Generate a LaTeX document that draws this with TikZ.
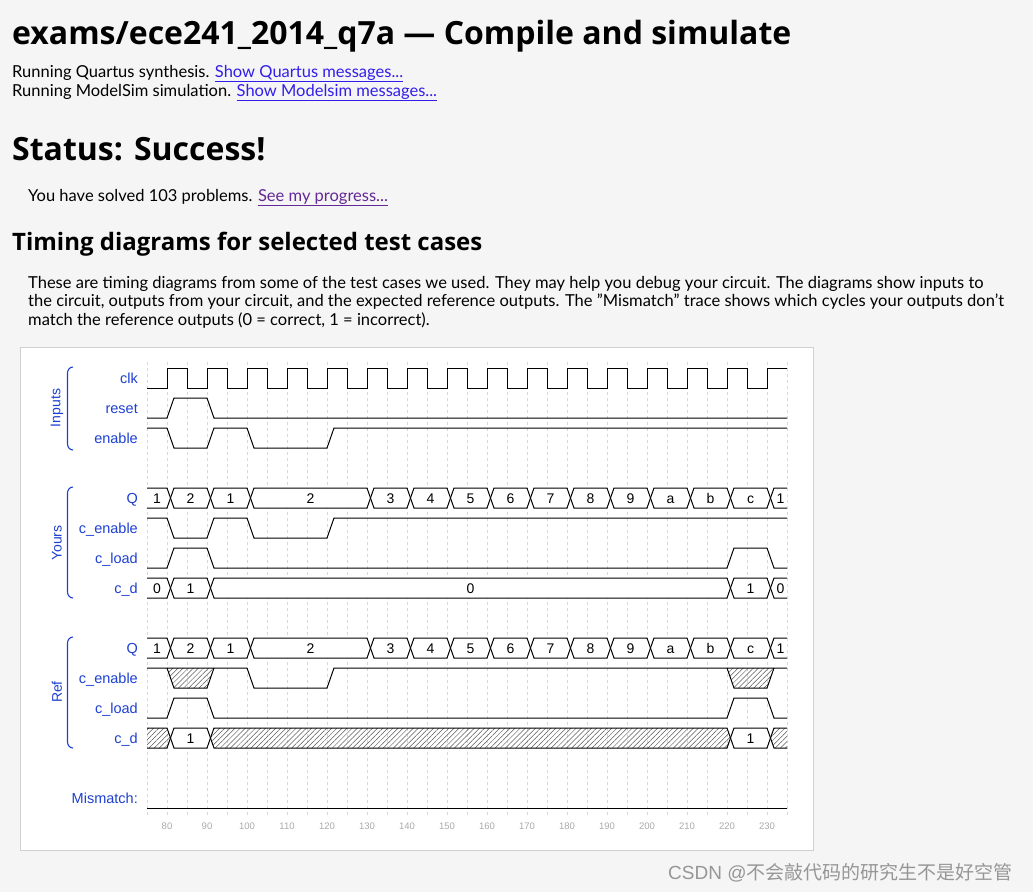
\documentclass[tikz,border=0pt]{standalone}
\usepackage{fontspec}
\setmainfont{Lato}
\newfontfamily\osans{Open Sans}
\newfontfamily\arial{Liberation Sans}
\newfontfamily\cjk{Noto Sans CJK SC}
\usetikzlibrary{patterns.meta}
\definecolor{pagebg}{RGB}{245,245,245}
\definecolor{panelborder}{RGB}{208,208,208}
\definecolor{lblblue}{RGB}{30,64,210}
\definecolor{linkblue}{RGB}{50,30,235}
\definecolor{linkpurple}{RGB}{100,40,150}
\definecolor{gridgray}{RGB}{215,215,215}
\definecolor{axisgray}{RGB}{170,170,170}
\definecolor{wmgray}{RGB}{150,150,150}
\tikzset{
  wv/.style={line width=1pt, black, line join=miter},
  hatch/.style={pattern={Lines[angle=45,distance=3.6pt,line width=0.5pt]}, pattern color=black!65},
  plain/.style={fill=white},
  val/.style={font=\arial\fontsize{14}{14}\selectfont, inner sep=0pt, text height=10pt, text depth=0pt, anchor=center},
  sig/.style={font=\arial\fontsize{14.5}{14.5}\selectfont, text=lblblue, inner sep=0pt, anchor=base east},
  grp/.style={font=\arial\fontsize{14}{14}\selectfont, text=lblblue, inner sep=0pt, rotate=90, anchor=center},
  brace/.style={lblblue, line width=1.1pt},
  gridln/.style={gridgray, line width=0.8pt, dash pattern=on 3pt off 3pt},
  axislbl/.style={font=\arial\fontsize{9.5}{9.5}\selectfont, text=axisgray, inner sep=0pt, anchor=center},
  body/.style={font=\fontsize{16.5}{19}\selectfont, inner sep=0pt, anchor=base west},
  hone/.style={font=\osans\bfseries\fontsize{32}{38}\selectfont, inner sep=0pt, anchor=base west},
  htwo/.style={font=\osans\bfseries\fontsize{24}{28}\selectfont, inner sep=0pt, anchor=base west},
}
\newcommand\lnk[1]{\textcolor{linkblue}{\underline{#1}}}
\newcommand\vlnk[1]{\textcolor{linkpurple}{\underline{#1}}}
% hexagon value between transitions a and b
\newcommand\hexv[5]{%
  \filldraw[wv,#5] ({#1+3.5},#3) -- ({#1+7},{#3-10}) -- (#2,{#3-10}) -- ({#2+3.5},#3) -- (#2,{#3+10}) -- ({#1+7},{#3+10}) -- cycle;
  \node[val] (v#1-#3) at ({(#1+7+#2)/2},#3) {#4};}
% first value, open at left
\newcommand\hexf[4]{%
  \filldraw[wv,#4] (147,{#2-10}) -- (#1,{#2-10}) -- ({#1+3.5},#2) -- (#1,{#2+10}) -- (147,{#2+10});
  \node[val] (vf-#2) at ({(147+#1)/2},#2) {#3};}
% last value, open at right
\newcommand\hexl[4]{%
  \filldraw[wv,#4] (787,{#2-10}) -- ({#1+7},{#2-10}) -- ({#1+3.5},#2) -- ({#1+7},{#2+10}) -- (787,{#2+10});
  \node[val] (vl-#2) at ({(#1+7+787)/2},#2) {#3};}
\newcommand\qbus[1]{%
  \hexf{167}{#1}{1}{plain}
  \hexv{167}{207}{#1}{2}{plain}
  \hexv{207}{247}{#1}{1}{plain}
  \hexv{247}{367}{#1}{2}{plain}
  \hexv{367}{407}{#1}{3}{plain}
  \hexv{407}{447}{#1}{4}{plain}
  \hexv{447}{487}{#1}{5}{plain}
  \hexv{487}{527}{#1}{6}{plain}
  \hexv{527}{567}{#1}{7}{plain}
  \hexv{567}{607}{#1}{8}{plain}
  \hexv{607}{647}{#1}{9}{plain}
  \hexv{647}{687}{#1}{a}{plain}
  \hexv{687}{727}{#1}{b}{plain}
  \hexv{727}{767}{#1}{c}{plain}
  \hexl{767}{#1}{1}{plain}}
\begin{document}
\begin{tikzpicture}[x=1pt,y=-1pt]
\fill[pagebg] (0,0) rectangle (1033,892);
\useasboundingbox (0,0) rectangle (1033,892);
% header texts
\node[hone] (title) at (12,44) {exams/ece241\_2014\_q7a — Compile and simulate};
\node[body] (run1) at (12,77) {Running Quartus synthesis. \lnk{Show Quartus messages...}};
\node[body] (run2) at (12,96) {Running ModelSim simulation. \lnk{Show Modelsim messages...}};
\node[hone] (status) at (12,160) {Status: Success!};
\node[body] (solved) at (28,201) {You have solved 103 problems. \vlnk{See my progress...}};
\node[htwo] (timing) at (12,250) {Timing diagrams for selected test cases};
\node[body] (p1) at (28,288) {These are timing diagrams from some of the test cases we used. They may help you debug your circuit. The diagrams show inputs to};
\node[body] (p2) at (28,306) {the circuit, outputs from your circuit, and the expected reference outputs. The \symbol{34}Mismatch\symbol{34} trace shows which cycles your outputs don\symbol{39}t};
\node[body] (p3) at (28,325) {match the reference outputs (0 = correct, 1 = incorrect).};
% panel
\filldraw[fill=white, draw=panelborder, line width=1pt] (20.5,347.5) rectangle (813.5,850.5);
% grid
\foreach \k in {0,...,32} \draw[gridln] ({147+20*\k},362) -- ({147+20*\k},815);
% axis labels
\foreach \t [count=\i from 0] in {80,90,...,230} \node[axislbl] (ax\t) at ({167+40*\i},826) {\t};
% group braces and labels
\draw[brace] (73,367) to[out=180,in=90] (67.5,373) -- (67.5,444) to[out=-90,in=180] (73,450);
\node[grp] (ginputs) at (57,408) {Inputs};
\draw[brace] (73,487) to[out=180,in=90] (67.5,493) -- (67.5,592) to[out=-90,in=180] (73,598);
\node[grp] (gyours) at (57,543) {Yours};
\draw[brace] (73,637) to[out=180,in=90] (67.5,643) -- (67.5,742) to[out=-90,in=180] (73,748);
\node[grp] (gref) at (57,692) {Ref};
% signal labels
\node[sig] (lclk) at (138,383) {clk};
\node[sig] (lreset) at (138,413) {reset};
\node[sig] (lenable) at (138,443) {enable};
\node[sig] (lq1) at (138,503) {Q};
\node[sig] (lce1) at (138,533) {c\_enable};
\node[sig] (lcl1) at (138,563) {c\_load};
\node[sig] (lcd1) at (138,593) {c\_d};
\node[sig] (lq2) at (138,653) {Q};
\node[sig] (lce2) at (138,683) {c\_enable};
\node[sig] (lcl2) at (138,713) {c\_load};
\node[sig] (lcd2) at (138,743) {c\_d};
\node[sig] (lmm) at (138,803) {Mismatch:};
% clk
\draw[wv] (147,388) \foreach \k in {0,...,14} { -- ({167+40*\k},388) -- ({167+40*\k},368) -- ({187+40*\k},368) -- ({187+40*\k},388) } -- (767,388) -- (767,368) -- (787,368);
% reset
\draw[wv] (147,418) -- (167,418) -- (174,398) -- (207,398) -- (214,418) -- (787,418);
% enable
\draw[wv] (147,428) -- (167,428) -- (174,448) -- (207,448) -- (214,428) -- (247,428) -- (254,448) -- (327,448) -- (334,428) -- (787,428);
% Yours
\qbus{498}
\draw[wv] (147,518) -- (167,518) -- (174,538) -- (207,538) -- (214,518) -- (247,518) -- (254,538) -- (327,538) -- (334,518) -- (787,518);
\draw[wv] (147,568) -- (167,568) -- (174,548) -- (207,548) -- (214,568) -- (727,568) -- (734,548) -- (767,548) -- (774,568) -- (787,568);
\hexf{167}{588}{0}{plain}
\hexv{167}{207}{588}{1}{plain}
\hexv{207}{727}{588}{0}{plain}
\hexv{727}{767}{588}{1}{plain}
\hexl{767}{588}{0}{plain}
% Ref
\qbus{648}
\filldraw[wv,hatch] (167,668) -- (174,688) -- (207,688) -- (214,668);
\filldraw[wv,hatch] (727,668) -- (734,688) -- (767,688) -- (774,668);
\draw[wv] (147,668) -- (247,668) -- (254,688) -- (327,688) -- (334,668) -- (787,668);
\draw[wv] (147,718) -- (167,718) -- (174,698) -- (207,698) -- (214,718) -- (727,718) -- (734,698) -- (767,698) -- (774,718) -- (787,718);
\hexf{167}{738}{}{hatch}
\hexv{167}{207}{738}{1}{plain}
\hexv{207}{727}{738}{}{hatch}
\hexv{727}{767}{738}{1}{plain}
\hexl{767}{738}{}{hatch}
% Mismatch
\draw[wv] (147,808) -- (787,808);
% watermark
\node[anchor=base west, inner sep=0pt, text=wmgray, font=\fontsize{19}{19}\selectfont] (wm) at (668,879) {\arial CSDN @\cjk 不会敲代码的研究生不是好空管};
\end{tikzpicture}
\end{document}
